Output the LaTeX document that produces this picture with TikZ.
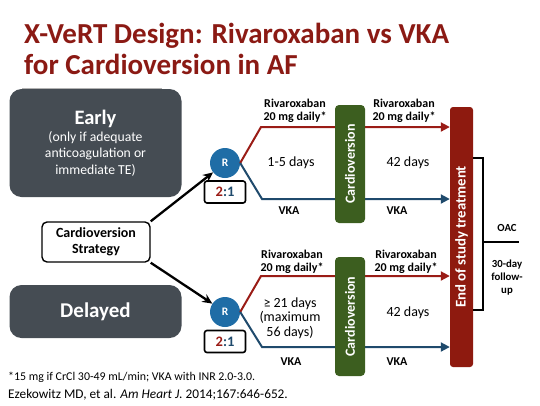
\documentclass[tikz,border=0pt]{standalone}
\usepackage{fontspec}
\setmainfont{Carlito}
\usetikzlibrary{arrows.meta,positioning}
\definecolor{titlered}{HTML}{8B1A14}
\definecolor{armred}{HTML}{9A1C16}
\definecolor{armblue}{HTML}{1F4A6C}
\definecolor{rblue}{HTML}{1F6DA6}
\definecolor{cvgreen}{HTML}{3C5E1F}
\definecolor{eosred}{HTML}{8E1A0F}
\definecolor{slate}{HTML}{454C53}
\newcommand{\fsz}[2]{\fontsize{#1}{#2}\selectfont}

\begin{document}
\begin{tikzpicture}[x=1pt,y=-1pt,
  slatebox/.style={fill=slate, rounded corners=12pt, text=white, align=center, minimum width=172pt},
  armlbl/.style={font=\fsz{12}{13.5}\bfseries, align=center},
  daylbl/.style={font=\fsz{14}{14.5}, align=center},
  rnode/.style={circle, fill=rblue, minimum size=30pt, inner sep=0pt, text=white, font=\fsz{11.5}{13}\bfseries},
  ratio/.style={draw, line width=1.6pt, rounded corners=2.5pt, minimum width=41pt, minimum height=22pt, inner sep=0pt, font=\fsz{14.5}{15}\bfseries},
  cvbox/.style={fill=cvgreen, rounded corners=4pt, rotate=90, text=white, minimum width=118pt, minimum height=30pt, inner sep=0pt, font=\fsz{14}{15}\bfseries},
  redarm/.style={armred, line width=2pt, -{Triangle[length=9pt,width=9pt]}},
  bluearm/.style={armblue, line width=2pt, -{Triangle[length=9pt,width=9pt]}},
  choice/.style={line width=2.3pt, -{Stealth[length=10pt,width=9pt]}}]
\useasboundingbox (0,0) rectangle (540,405);

% Title
\node[anchor=base west, inner sep=0pt, text=titlered, font=\fsz{29}{31}\bfseries] (title1) at (24,43) {X-VeRT Design: Rivaroxaban vs VKA};
\node[anchor=base west, inner sep=0pt, text=titlered, font=\fsz{29}{31}\bfseries] (title2) at (24,74) {for Cardioversion in AF};
\draw[gray!60, line width=1.2pt] (22,88.5) -- (162,88.5);

% Strategy boxes
\node[slatebox, minimum height=108pt, font=\fsz{13.7}{16.3}] (early) at (95.5,143)
  {{\fsz{20.5}{21}\bfseries Early}\\[0.7pt](only if adequate\\anticoagulation or\\immediate TE)};
\node[slatebox, minimum height=53pt, font=\fsz{21}{25}\bfseries] (delayed) at (95.5,311.5) {Delayed};
\node[draw, line width=1.4pt, rounded corners=5pt, minimum width=108pt, minimum height=40pt, align=center, font=\fsz{14}{16}\bfseries] (strat) at (96,242) {Cardioversion\\Strategy};

% Randomisation
\node[rnode] (rU) at (225,163) {R};
\node[rnode] (rL) at (225,312) {R};
\node[ratio] (ratioU) at (225,192) {\textcolor{armred}{2}\textcolor{armblue}{:1}};
\node[ratio] (ratioL) at (225,341.5) {\textcolor{armred}{2}\textcolor{armblue}{:1}};
\draw[choice] (strat.north east) -- (rU);
\draw[choice] (strat.south east) -- (rL);

% End of study (rotated: north = left side, south = right side)
\node[fill=eosred, rounded corners=3pt, rotate=90, minimum width=260pt, minimum height=23pt, inner sep=0pt, text=white, font=\fsz{14.8}{16}\bfseries] (eos) at (461.5,237) {End of study treatment};

% Arms
\coordinate (uRed) at (261,127);
\coordinate (uBlue) at (262,199);
\coordinate (lRed) at (261,276);
\coordinate (lBlue) at (262,347);
\draw[redarm] (rU.east) -- (uRed) -- (uRed -| eos.north);
\draw[bluearm] (rU.east) -- (uBlue) -- (uBlue -| eos.north);
\draw[redarm] (rL.east) -- (lRed) -- (lRed -| eos.north);
\draw[bluearm] (rL.east) -- (lBlue) -- (lBlue -| eos.north);

% Cardioversion
\node[cvbox] (cvU) at (350,164) {Cardioversion};
\node[cvbox, minimum width=119pt] (cvL) at (350,316.5) {Cardioversion};

% Arm labels
\node[armlbl] (rivU1) at (295,111) {Rivaroxaban\\20 mg daily*};
\node[armlbl] (rivU2) at (404,111) {Rivaroxaban\\20 mg daily*};
\node[daylbl] (daysU1) at (291,163) {1-5 days};
\node[daylbl] (daysU2) at (408,163) {42 days};
\node[armlbl] (vkaU1) at (289,211) {VKA};
\node[armlbl] (vkaU2) at (397,211) {VKA};
\node[armlbl] (rivL1) at (292,262) {Rivaroxaban\\20 mg daily*};
\node[armlbl] (rivL2) at (406,262) {Rivaroxaban\\20 mg daily*};
\node[daylbl] (daysL1) at (290,318) {≥ 21 days\\(maximum\\56 days)};
\node[daylbl] (daysL2) at (408,313) {42 days};
\node[armlbl] (vkaL1) at (291,362) {VKA};
\node[armlbl] (vkaL2) at (397,362) {VKA};

% Follow-up bracket
\coordinate (brTop) at (483,158);
\coordinate (brBot) at (483,310);
\coordinate (brMid) at (483,242);
\draw[line width=2pt] (brTop -| eos.south) -- (brTop) -- (brBot) -- (brBot -| eos.south);
\draw[line width=2pt] (brMid) -- ++(36,0);
\node[armlbl, font=\fsz{10.8}{12}\bfseries] (oac) at (507,228) {OAC};
\node[armlbl, font=\fsz{10.8}{13}\bfseries] (fup) at (507,278) {30-day\\follow-\\up};

% Footnote
\node[anchor=base west, inner sep=0pt, font=\fsz{11.9}{13}] (note) at (8,380) {*15 mg if CrCl 30-49 mL/min; VKA with INR 2.0-3.0.};
\node[anchor=base west, inner sep=0pt, font=\fsz{13.3}{15}] (ref) at (8,398) {Ezekowitz MD, et al. \textit{Am Heart J.} 2014;167:646-652.};
\end{tikzpicture}
\end{document}
